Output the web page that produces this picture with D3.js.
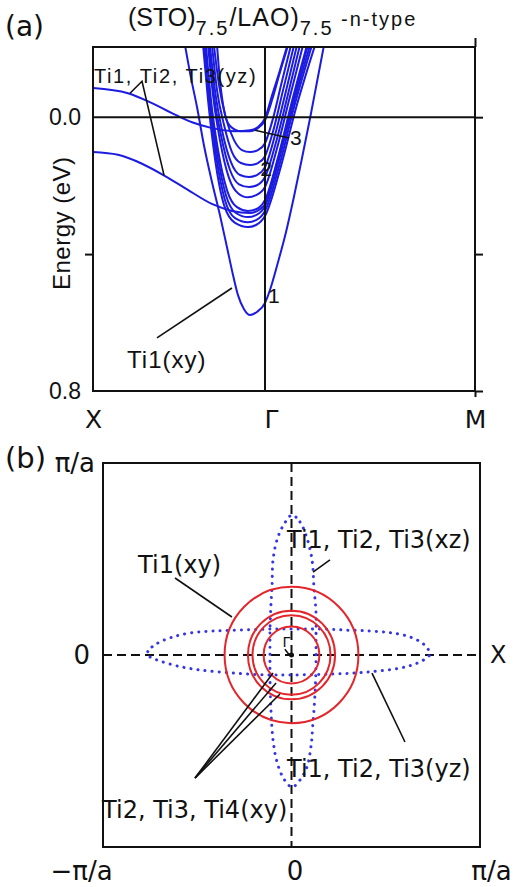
<!DOCTYPE html>
<html>
<head>
<meta charset="utf-8">
<script src="https://cdn.jsdelivr.net/npm/d3@7"></script>
<style>
body { margin: 0; background: #fff; }
</style>
</head>
<body>
<div id="graph"></div>
<script>
// ---- panel (a): band structure along X - Gamma - M ----
const kM = 2.221
const kPoints = [0, 1, kM]
const kLabels = ['X', 'Γ', 'M']
const eTicks = [0, -0.4, -0.8]
const eLabels = ['0.0', '', '0.8']

// [k, E(eV)]
const bandTi1xy = [[0.535,0.21],[0.570,0.114],[0.605,0.029],[0.645,-0.082],[0.692,-0.190],[0.738,-0.286],
  [0.779,-0.380],[0.814,-0.461],[0.843,-0.520],[0.878,-0.561],[0.913,-0.578],[0.953,-0.569],[1.0,-0.543],
  [1.029,-0.505],[1.076,-0.423],[1.122,-0.336],[1.169,-0.231],[1.215,-0.120],[1.262,-0.003],[1.302,0.102],[1.343,0.21]]
const bandYzUpper = [[0,0.085],[0.203,0.070],[0.343,0.041],[0.459,0.012],[0.576,-0.015],[0.692,-0.032],
  [0.826,-0.041],[0.913,-0.038],[0.959,-0.029],[1.0,-0.003],[1.041,0.064],[1.087,0.137],[1.13,0.21]]
const bandYzLower = [[0,-0.102],[0.145,-0.110],[0.285,-0.136],[0.419,-0.172],[0.535,-0.207],[0.698,-0.255],
  [0.808,-0.274],[0.913,-0.280],[0.971,-0.269],[1.0,-0.254],[1.058,-0.155],[1.134,-0.009],[1.203,0.123],[1.25,0.21]]
const subband3 = [[0.721,0.21],[0.738,0.108],[0.762,0.020],[0.797,-0.026],[0.855,-0.041],[0.913,-0.041],
  [0.959,-0.032],[1.0,-0.009],[1.041,0.050],[1.087,0.131],[1.134,0.21]]
const subbandA = [[0.703,0.21],[0.733,0.093],[0.773,-0.003],[0.820,-0.067],[0.866,-0.096],[0.913,-0.102],
  [0.959,-0.096],[1.0,-0.076],[1.047,-0.003],[1.093,0.093],[1.151,0.21]]
const subbandB = [[0.692,0.21],[0.721,0.079],[0.762,-0.023],[0.808,-0.102],[0.860,-0.134],[0.913,-0.140],
  [0.959,-0.134],[1.0,-0.114],[1.052,-0.032],[1.105,0.079],[1.169,0.21]]
const subbandC = [[0.680,0.21],[0.709,0.079],[0.750,-0.038],[0.802,-0.131],[0.855,-0.169],[0.907,-0.175],
  [0.953,-0.169],[1.0,-0.146],[1.058,-0.053],[1.116,0.064],[1.186,0.21]]
const subbandD = [[0.674,0.21],[0.703,0.064],[0.744,-0.053],[0.797,-0.155],[0.849,-0.196],[0.907,-0.204],
  [0.953,-0.199],[1.0,-0.175],[1.064,-0.073],[1.128,0.055],[1.203,0.21]]
const subbandE = [[0.669,0.21],[0.698,0.064],[0.738,-0.067],[0.791,-0.178],[0.843,-0.222],[0.901,-0.234],
  [0.948,-0.228],[1.0,-0.204],[1.070,-0.091],[1.140,0.050],[1.221,0.21]]
const subbandF = [[0.657,0.21],[0.686,0.050],[0.727,-0.096],[0.779,-0.213],[0.837,-0.263],[0.901,-0.274],
  [0.948,-0.269],[1.0,-0.242],[1.076,-0.117],[1.151,0.035],[1.244,0.21]]
const subbandG = [[0.651,0.21],[0.680,0.050],[0.721,-0.102],[0.773,-0.228],[0.831,-0.280],[0.901,-0.292],
  [0.948,-0.286],[1.0,-0.260],[1.081,-0.126],[1.163,0.035],[1.262,0.21]]
const subbandH = [[0.645,0.21],[0.674,0.050],[0.715,-0.111],[0.767,-0.242],[0.826,-0.295],[0.901,-0.307],
  [0.948,-0.301],[1.0,-0.274],[1.087,-0.134],[1.169,0.029],[1.273,0.21]]
const subbandI = [[0.640,0.21],[0.669,0.050],[0.709,-0.120],[0.762,-0.257],[0.826,-0.309],[0.901,-0.321],
  [0.948,-0.315],[1.0,-0.289],[1.093,-0.143],[1.180,0.026],[1.291,0.21]]

// ---- panel (b): Fermi surface, k in units of pi/a ----
const fsRadii = [0.355, 0.231, 0.207, 0.148]
const contourXz = [[0.003,0.729],[0.045,0.693],[0.082,0.609],[0.109,0.495],[0.119,0.354],[0.130,0.219],
  [0.130,0.078],[0.130,-0.052],[0.125,-0.198],[0.114,-0.354],[0.103,-0.479],[0.082,-0.583],[0.045,-0.651],
  [0.003,-0.688],[-0.040,-0.646],[-0.077,-0.557],[-0.098,-0.443],[-0.109,-0.286],[-0.114,-0.130],[-0.114,0],
  [-0.114,0.130],[-0.109,0.260],[-0.103,0.365],[-0.098,0.495],[-0.077,0.599],[-0.045,0.672]]
const contourYz = [[-0.767,0.005],[-0.740,0.042],[-0.698,0.068],[-0.629,0.094],[-0.538,0.115],[-0.416,0.125],
  [-0.273,0.130],[-0.130,0.135],[0.003,0.135],[0.151,0.135],[0.284,0.130],[0.416,0.125],[0.533,0.115],
  [0.629,0.094],[0.692,0.063],[0.724,0.031],[0.735,0.005],[0.708,-0.021],[0.655,-0.047],[0.576,-0.068],
  [0.401,-0.089],[0.220,-0.099],[0.003,-0.104],[-0.130,-0.104],[-0.310,-0.094],[-0.485,-0.078],
  [-0.607,-0.057],[-0.698,-0.031],[-0.751,-0.010]]
const kxTicks = [-1, 0, 1]
const kxLabels = ['−π/a', '0', 'π/a']
const kyTicks = [0, 1]
const kyLabels = ['0', 'π/a']

const bands = [bandYzUpper, bandYzLower, subband3, subbandA, subbandB, subbandC, subbandD,
  subbandE, subbandF, subbandG, subbandH, subbandI, bandTi1xy]

const SANS = '"Liberation Sans", Arial, sans-serif'
const DEJA = '"DejaVu Sans", sans-serif'
const BLUE = '#1c1ce0', RED = '#e3262b'

var svg = d3.select('#graph').append('svg')
    .attr('width', 520)
    .attr('height', 887)

function fixAxis(g, size, family){
    g.select('.domain').remove()
    g.selectAll('line').attr('stroke', '#111').attr('stroke-width', 2)
    g.selectAll('text').style('font-size', size + 'px').style('font-family', family).attr('fill', '#111')
}

function label(g, px, py, str, size, family, extra){
    var t = g.append('text')
        .attr('x', px).attr('y', py)
        .style('font-size', size + 'px')
        .style('font-family', family)
        .attr('fill', '#111')
        .text(str)
    if (extra) extra(t)
    return t
}

function leader(g, pts, sx, sy){
    g.append('path')
        .attr('d', d3.line().x(d => sx(d[0])).y(d => sy(d[1]))(pts))
        .attr('fill', 'none')
        .attr('stroke', '#111')
        .attr('stroke-width', 1.6)
}

// ================= panel (a) =================
var a = {left: 93, right: 475, top: 47, bottom: 391}

var x = d3.scaleLinear().domain([0, kM]).range([a.left, a.right])
var y = d3.scaleLinear().domain([0.205, -0.8]).range([a.top, a.bottom])

var ga = svg.append('g')

ga.append('clipPath').attr('id', 'clipA')
  .append('rect')
    .attr('x', a.left).attr('y', a.top)
    .attr('width', a.right - a.left).attr('height', a.bottom - a.top)

var bandLine = d3.line()
    .x(d => x(d[0]))
    .y(d => y(d[1]))
    .curve(d3.curveMonotoneX)

ga.append('g')
    .attr('clip-path', 'url(#clipA)')
  .selectAll('path')
  .data(bands)
  .join('path')
    .attr('d', bandLine)
    .attr('fill', 'none')
    .attr('stroke', BLUE)
    .attr('stroke-width', 2)

// frame, Fermi level, Gamma line
ga.append('rect')
    .attr('x', a.left).attr('y', a.top)
    .attr('width', a.right - a.left).attr('height', a.bottom - a.top)
    .attr('fill', 'none').attr('stroke', '#111').attr('stroke-width', 2)

ga.append('line')
    .attr('x1', x(0)).attr('x2', x(kM))
    .attr('y1', y(0)).attr('y2', y(0))
    .attr('stroke', '#111').attr('stroke-width', 2)

ga.append('line')
    .attr('x1', x(1)).attr('x2', x(1))
    .attr('y1', y(0.205)).attr('y2', y(-0.8))
    .attr('stroke', '#111').attr('stroke-width', 2)

// axes
ga.append('g')
    .attr('transform', 'translate(' + a.right + ',0)')
    .call(d3.axisRight(y).tickValues(eTicks).tickSize(8).tickFormat(''))
    .call(fixAxis, 10, SANS)

ga.append('g')
    .attr('transform', 'translate(' + a.left + ',0)')
    .call(d3.axisLeft(y).tickValues([-0.4]).tickSize(8).tickFormat(''))
    .call(fixAxis, 10, SANS)

ga.append('g')
    .attr('transform', 'translate(' + a.left + ',0)')
    .call(d3.axisLeft(y).tickValues(eTicks).tickSize(0).tickPadding(12)
        .tickFormat((d, i) => eLabels[i]))
    .call(fixAxis, 23, SANS)

ga.append('g')
    .attr('transform', 'translate(0,' + a.top + ')')
    .call(d3.axisTop(x).tickValues([kM]).tickSize(9).tickFormat(''))
    .call(fixAxis, 10, SANS)

ga.append('g')
    .attr('transform', 'translate(0,' + a.bottom + ')')
    .call(d3.axisBottom(x).tickValues([kM]).tickSize(6).tickFormat(''))
    .call(fixAxis, 10, SANS)

ga.append('g')
    .attr('transform', 'translate(0,' + a.bottom + ')')
    .call(d3.axisBottom(x).tickValues(kPoints).tickSize(0).tickPadding(19)
        .tickFormat((d, i) => kLabels[i]))
    .call(fixAxis, 25, DEJA)
    .selectAll('text').attr('dx', (d, i) => i == 1 ? 6 : 0)

// titles
label(ga, 5, 36, '(a)', 28, DEJA)

var title = ga.append('text')
    .attr('x', 128).attr('y', 26)
    .attr('fill', '#111')
    .style('font-family', SANS)
title.append('tspan').style('font-size', '25px').text('(STO)')
title.append('tspan').style('font-size', '20px').attr('dy', 9).attr('letter-spacing', 2).text('7.5')
title.append('tspan').style('font-size', '25px').attr('dy', -9).attr('letter-spacing', 1).text('/LAO)')
title.append('tspan').style('font-size', '20px').attr('dy', 9).attr('letter-spacing', 2).text('7.5')
title.append('tspan').style('font-size', '20px').attr('dy', -9).attr('letter-spacing', 2).text(' -n-type')

label(ga, 0, 0, 'Energy (eV)', 24, SANS, t => t
    .attr('x', null).attr('y', null)
    .attr('text-anchor', 'middle')
    .attr('letter-spacing', 0.5)
    .attr('transform', 'translate(70,' + y(-0.31) + ') rotate(-90)'))

// annotations
label(ga, x(0) + 1, y(0.099), 'Ti1, Ti2, Ti3(yz)', 20, SANS, t => t.attr('letter-spacing', 1.6))
leader(ga, [[0.215, 0.070], [0.285, 0.105], [0.413, -0.170]], x, y)

label(ga, x(1.145), y(-0.082), '3', 21, SANS)
leader(ga, [[0.942, -0.038], [1.140, -0.061]], x, y)

label(ga, x(1.006), y(-0.172), '2', 21, SANS, t => t.attr('text-anchor', 'middle'))
label(ga, x(1.017), y(-0.543), '1', 21, SANS)

label(ga, x(0.198), y(-0.733), 'Ti1(xy)', 24, SANS, t => t.attr('letter-spacing', 1))
leader(ga, [[0.372, -0.645], [0.808, -0.499]], x, y)

// ================= panel (b) =================
var b = {left: 103, right: 480, top: 463, bottom: 847}

var kx = d3.scaleLinear().domain([-1, 1]).range([b.left, b.right])
var ky = d3.scaleLinear().domain([-1, 1]).range([b.bottom, b.top])

var gb = svg.append('g')

gb.append('rect')
    .attr('x', b.left).attr('y', b.top)
    .attr('width', b.right - b.left).attr('height', b.bottom - b.top)
    .attr('fill', 'none').attr('stroke', '#111').attr('stroke-width', 2)

gb.append('line')
    .attr('x1', kx(0)).attr('x2', kx(0))
    .attr('y1', ky(1)).attr('y2', ky(-1))
    .attr('stroke', '#111').attr('stroke-width', 2).attr('stroke-dasharray', '9 5')

gb.append('line')
    .attr('x1', kx(-1)).attr('x2', kx(1))
    .attr('y1', ky(0)).attr('y2', ky(0))
    .attr('stroke', '#111').attr('stroke-width', 2).attr('stroke-dasharray', '9 5')

var contour = d3.line()
    .x(d => kx(d[0]))
    .y(d => ky(d[1]))
    .curve(d3.curveCatmullRomClosed)

gb.selectAll('path.fs')
  .data([contourXz, contourYz])
  .join('path')
    .attr('class', 'fs')
    .attr('d', contour)
    .attr('fill', 'none')
    .attr('stroke', '#3535e4')
    .attr('stroke-width', 3)
    .attr('stroke-linecap', 'round')
    .attr('stroke-dasharray', '0.1 7')

gb.selectAll('ellipse')
  .data(fsRadii)
  .join('ellipse')
    .attr('cx', kx(0))
    .attr('cy', ky(0))
    .attr('rx', d => kx(d) - kx(0))
    .attr('ry', d => ky(0) - ky(d))
    .attr('fill', 'none')
    .attr('stroke', RED)
    .attr('stroke-width', 2)

gb.append('circle')
    .attr('cx', kx(0)).attr('cy', ky(0)).attr('r', 2.5)
    .attr('fill', '#111')

label(gb, kx(-0.048), ky(0.042), 'Γ', 14, DEJA)
leader(gb, [[-0.035, 0.030], [-0.018, 0.008], [0, 0]], kx, ky)

// axes labels
gb.append('g')
    .attr('transform', 'translate(0,' + b.bottom + ')')
    .call(d3.axisBottom(kx).tickValues(kxTicks).tickSize(0).tickPadding(15)
        .tickFormat((d, i) => kxLabels[i]))
    .call(fixAxis, 26, DEJA)
    .selectAll('text').attr('dx', (d, i) => [-22, 3, 11][i])

gb.append('g')
    .attr('transform', 'translate(' + b.left + ',0)')
    .call(d3.axisLeft(ky).tickValues(kyTicks).tickSize(0).tickPadding(8)
        .tickFormat((d, i) => kyLabels[i]))
    .call(fixAxis, 26, DEJA)
    .selectAll('text').attr('dx', (d, i) => i == 0 ? -5 : 0)

gb.append('g')
    .attr('transform', 'translate(' + b.right + ',0)')
    .call(d3.axisRight(ky).tickValues([0]).tickSize(0).tickPadding(10).tickFormat('X'))
    .call(fixAxis, 24, DEJA)

label(gb, 5, 468, '(b)', 29, DEJA)

// annotations
label(gb, kx(-0.814), ky(0.427), 'Ti1(xy)', 24, DEJA)
leader(gb, [[-0.618, 0.401], [-0.316, 0.198]], kx, ky)

label(gb, kx(-0.024), ky(0.557), 'Ti1, Ti2, Ti3(xz)', 24, DEJA)
leader(gb, [[0.204, 0.495], [0.114, 0.432]], kx, ky)

label(gb, kx(-0.024), ky(-0.635), 'Ti1, Ti2, Ti3(yz)', 24, DEJA)
leader(gb, [[0.602, -0.453], [0.427, -0.094]], kx, ky)

label(gb, kx(-1.005), ky(-0.849), 'Ti2, Ti3, Ti4(xy)', 24, DEJA)
leader(gb, [[-0.512, -0.641], [-0.098, -0.094]], kx, ky)
leader(gb, [[-0.512, -0.641], [-0.082, -0.146]], kx, ky)
leader(gb, [[-0.512, -0.641], [-0.061, -0.203]], kx, ky)
</script>
</body>
</html>
